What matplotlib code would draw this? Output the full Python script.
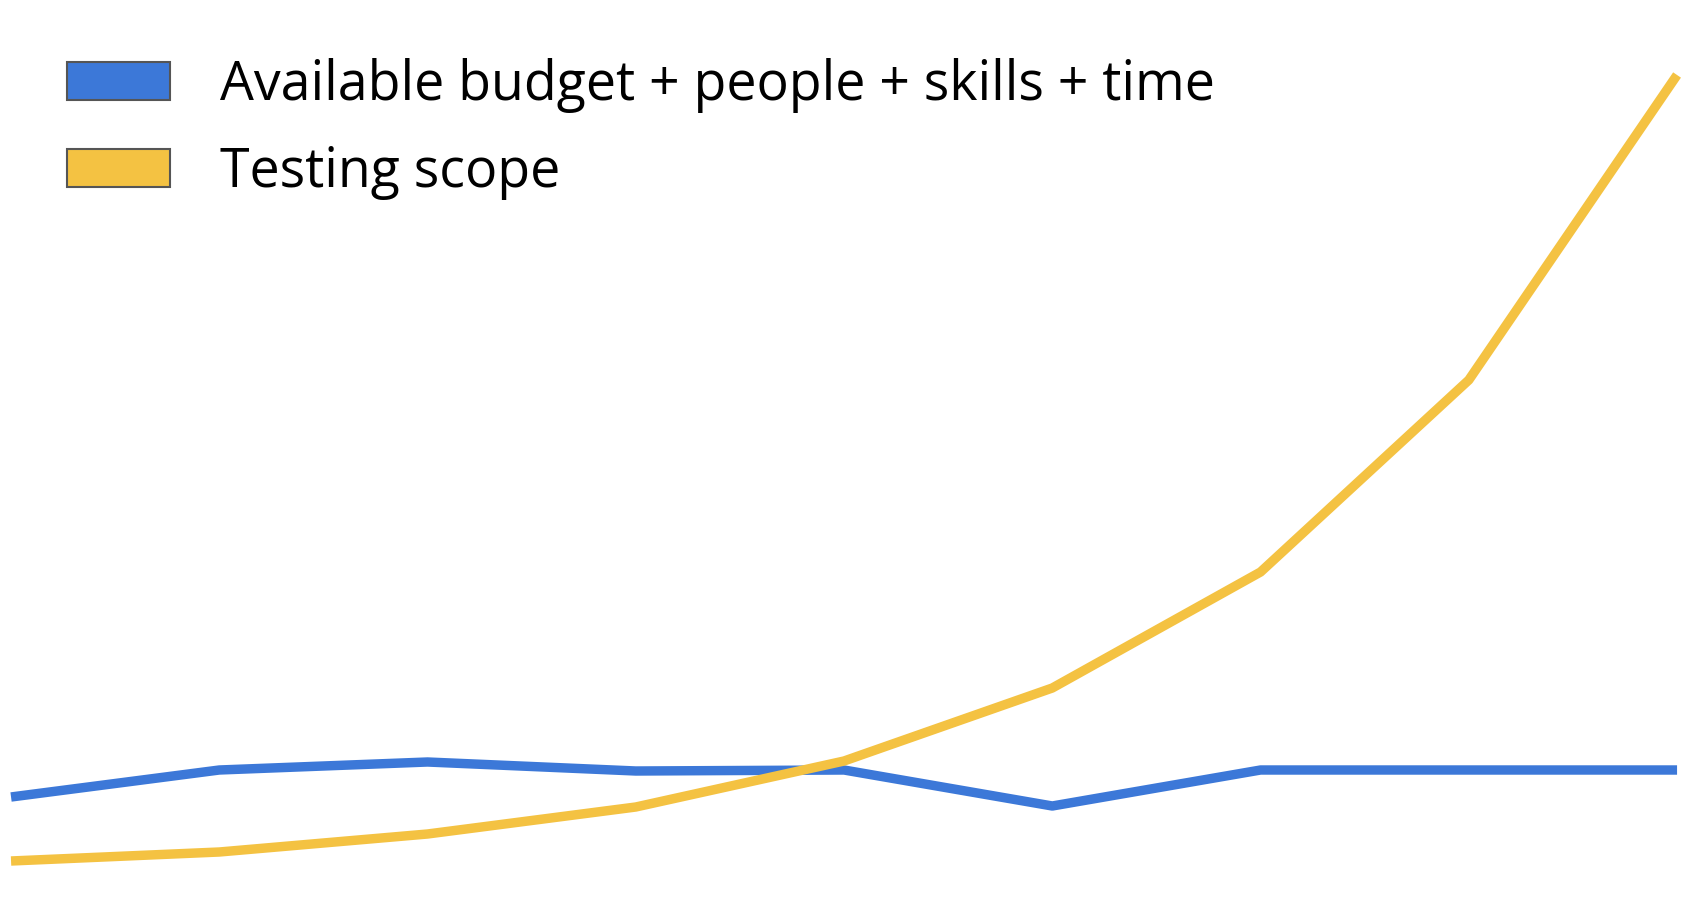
import matplotlib
matplotlib.use("Agg")
from matplotlib import pyplot as plt
from matplotlib.patches import Patch

steps = list(range(9))
resources = [8.3, 11.0, 11.8, 10.9, 11.0, 7.4, 11.0, 11.0, 11.0]
scope = [1.9, 2.8, 4.6, 7.3, 11.9, 19.2, 30.8, 50.0, 80.5]
labels = ["Available budget + people + skills + time", "Testing scope"]
colors = ["#3c78d8", "#f4c242"]

plt.rcParams['font.family'] = ['Open Sans', 'DejaVu Sans']

fig = plt.figure(figsize=(17.06, 9.24), dpi=100)
ax = fig.add_axes([0, 0, 1, 1])
ax.plot(steps, resources, color=colors[0], lw=6.8, solid_capstyle='butt')
ax.plot(steps, scope, color=colors[1], lw=6.8, solid_capstyle='butt')
ax.set_xlim(-0.053, 8.139)
ax.set_ylim(-4.4, 88)
ax.axis('off')

fs = 38.6
fpx = fs * 100 / 72
handles = [Patch(facecolor=c, edgecolor='#555555', lw=1.5) for c in colors]
fig.legend(handles, labels, loc='upper left',
           bbox_to_anchor=(67 / 1706, 1 - 58 / 924),
           frameon=False, fontsize=fs, borderpad=0, borderaxespad=0,
           handlelength=103 / fpx, handleheight=38 / fpx,
           handletextpad=50 / fpx, labelspacing=0.6)

fig.savefig("out.png", dpi=100)
